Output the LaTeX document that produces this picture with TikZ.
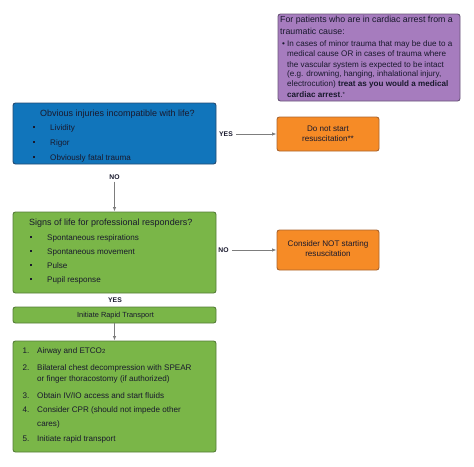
\documentclass[tikz,border=0pt]{standalone}
\usepackage{fontspec}
\setmainfont{Liberation Sans}
\usetikzlibrary{arrows.meta}
\definecolor{bluef}{RGB}{17,117,187}
\definecolor{blued}{RGB}{35,75,115}
\definecolor{greenf}{RGB}{122,182,72}
\definecolor{greend}{RGB}{85,125,55}
\definecolor{orangef}{RGB}{246,139,38}
\definecolor{oranged}{RGB}{170,100,45}
\definecolor{purplef}{RGB}{166,124,190}
\definecolor{purpled}{RGB}{105,85,120}
\definecolor{connc}{RGB}{125,125,125}
\definecolor{tdark}{RGB}{25,25,45}
\begin{document}
\begin{tikzpicture}[x=1pt,y=-1pt,
  box/.style={draw, rounded corners=2.5pt, line width=0.9pt, inner sep=0pt},
  t/.style={anchor=base west, inner sep=0pt, text=tdark},
  tc/.style={anchor=base, inner sep=0pt, text=tdark},
  fA/.style={font=\fontsize{9}{10}\selectfont},
  fB/.style={font=\fontsize{8.1}{9}\selectfont},
  fC/.style={font=\fontsize{7.4}{8}\selectfont},
  lbl/.style={inner sep=0pt, text=tdark, font=\bfseries\fontsize{6.8}{7}\selectfont},
  conn/.style={draw=connc, line width=0.8pt, -{Latex[length=4.5pt,width=3.5pt]}},
  bul/.style={anchor=base, inner sep=0pt, text=tdark}
]
\useasboundingbox (0,0) rectangle (474,466);
\newcommand{\sqb}{\rule[2pt]{2.2pt}{2.2pt}}

% boxes
\node[box, fill=purplef, draw=purpled, minimum width=182pt, minimum height=87pt] (note) at (369,57.5) {};
\node[box, fill=bluef, draw=blued, minimum width=203pt, minimum height=61pt] (blue) at (114.5,133.5) {};
\node[box, fill=orangef, draw=oranged, minimum width=102pt, minimum height=34pt] (o1) at (328,134) {};
\node[box, fill=greenf, draw=greend, minimum width=203pt, minimum height=81pt] (green1) at (114.5,252.5) {};
\node[box, fill=orangef, draw=oranged, minimum width=102pt, minimum height=40pt] (o2) at (328,250) {};
\node[box, fill=greenf, draw=greend, minimum width=203pt, minimum height=16pt] (rapid) at (114.5,315) {};
\node[box, fill=greenf, draw=greend, minimum width=203pt, minimum height=111pt] (green2) at (114.5,396.5) {};

% purple note text
\node[t, font=\fontsize{8.8}{10}\selectfont] (n1) at (280,22.5) {For patients who are in cardiac arrest from a};
\node[t, font=\fontsize{8.8}{10}\selectfont] (n2) at (280,34) {traumatic cause:};
\node[bul, fB] (nb) at (283.5,46) {•};
\node[t, fB] (n3) at (287,46) {In cases of minor trauma that may be due to a};
\node[t, fB] (n4) at (287,56.5) {medical cause OR in cases of trauma where};
\node[t, fB] (n5) at (287,67) {the vascular system is expected to be intact};
\node[t, fB] (n6) at (287,76.5) {(e.g. drowning, hanging, inhalational injury,};
\node[t, fB] (n7) at (287,86.5) {electrocution) \textbf{treat as you would a medical}};
\node[t, fB] (n8) at (287,97) {\textbf{cardiac arrest}.\raisebox{1pt}{\fontsize{6}{6}\selectfont *}};

% blue text
\node[tc, fA] (b0) at (117.5,116.5) {Obvious injuries incompatible with life?};
\node[bul] (bb1) at (34,130) {\sqb};
\node[t, fB] (b1) at (50,130) {Lividity};
\node[bul] (bb2) at (34,145) {\sqb};
\node[t, fB] (b2) at (50,145) {Rigor};
\node[bul] (bb3) at (34,160) {\sqb};
\node[t, fB] (b3) at (50,160) {Obviously fatal trauma};

% orange texts
\node[tc, fB] (oa1) at (328,131) {Do not start};
\node[tc, fB] (oa2) at (328,141) {resuscitation**};
\node[tc, fB] (ob1) at (328,246) {Consider NOT starting};
\node[tc, fB] (ob2) at (328,256.5) {resuscitation};

% green1 text
\node[t, fA] (g0) at (29,225.5) {Signs of life for professional responders?};
\node[bul] (gb1) at (31,240) {\sqb};
\node[t, fB] (g1) at (47,240) {Spontaneous respirations};
\node[bul] (gb2) at (31,254) {\sqb};
\node[t, fB] (g2) at (47,254) {Spontaneous movement};
\node[bul] (gb3) at (31,268) {\sqb};
\node[t, fB] (g3) at (47,268) {Pulse};
\node[bul] (gb4) at (31,282) {\sqb};
\node[t, fB] (g4) at (47,282) {Pupil response};

% rapid
\node[tc, fC] (r0) at (115.5,317.8) {Initiate Rapid Transport};

% green2 list
\node[t, fB] (k1) at (22.5,353) {1.};
\node[t, fB] (l1) at (37,353) {Airway and ETCO\raisebox{-0.3pt}{\fontsize{6}{6}\selectfont 2}};
\node[t, fB] (k2) at (22.5,370) {2.};
\node[t, fB] (l2) at (37,370) {Bilateral chest decompression with SPEAR};
\node[t, fB] (l2b) at (37,381.5) {or finger thoracostomy (if authorized)};
\node[t, fB] (k3) at (22.5,398) {3.};
\node[t, fB] (l3) at (37,398) {Obtain IV/IO access and start fluids};
\node[t, fB] (k4) at (22.5,412) {4.};
\node[t, fB] (l4) at (37,412) {Consider CPR (should not impede other};
\node[t, fB] (l4b) at (37,426) {cares)};
\node[t, fB] (k5) at (22.5,441) {5.};
\node[t, fB] (l5) at (37,441) {Initiate rapid transport};

% labels
\node[lbl] (yes1) at (226,134) {YES};
\node[lbl] (no1) at (114.5,177) {NO};
\node[lbl] (no2) at (223.5,250) {NO};
\node[lbl] (yes2) at (115,300) {YES};

% connectors
\draw[conn, shorten <=3pt] (yes1.east) -- (o1.west);
\draw[conn, shorten <=2pt] (no1.south) -- (green1.north);
\draw[conn, shorten <=3pt] (no2.east) -- (o2.west);
\draw[conn] (rapid.south) -- (green2.north);
\end{tikzpicture}
\end{document}
